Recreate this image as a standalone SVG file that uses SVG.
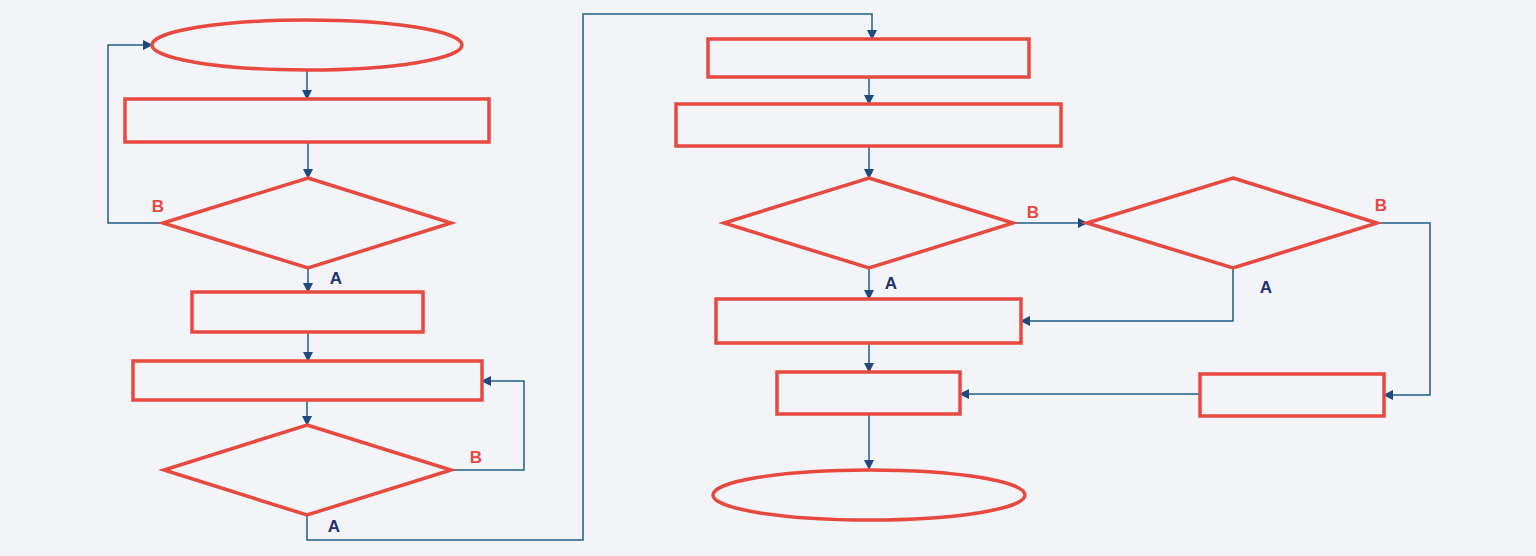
<svg xmlns="http://www.w3.org/2000/svg" width="1536" height="556" viewBox="0 0 1536 556">
<style>
.n{fill:none;stroke:#e8493f;stroke-width:3.5}
.c{fill:none;stroke:#1f5f88;stroke-width:1.5}
.lb{font-family:"Liberation Sans",Arial,sans-serif;font-weight:bold;font-size:17px;text-anchor:middle}
.a{fill:#1f3270}.b{fill:#e8493f}
</style>
<defs><marker id="ar" viewBox="0 0 10 10" refX="9" refY="5" markerWidth="7" markerHeight="7" orient="auto-start-reverse"><path d="M0,0L10,5L0,10z" fill="#1f4a80"/></marker></defs>
<rect width="1536" height="556" fill="#f3f4f8"/>
<g id="connectors" marker-end="url(#ar)">
<path class="c" d="M307,70V99"/>
<path class="c" d="M308,142V178"/>
<path class="c" d="M163,223H108V45H152"/>
<path class="c" d="M308,268V292"/>
<path class="c" d="M308,332V361"/>
<path class="c" d="M307,400V425"/>
<path class="c" d="M451,470H524V381H482"/>
<path class="c" d="M307,515V540H583V14H872V39"/>
<path class="c" d="M869,77V104"/>
<path class="c" d="M869,146V178"/>
<path class="c" d="M869,268V299"/>
<path class="c" d="M1013,223H1087"/>
<path class="c" d="M1233,268V321H1021"/>
<path class="c" d="M1377,223H1430V395H1384"/>
<path class="c" d="M869,343V372"/>
<path class="c" d="M1200,394H960"/>
<path class="c" d="M869,414V469"/>
</g>
<g id="start"><ellipse class="n" cx="307" cy="45" rx="155" ry="25"/></g>
<g id="r1"><rect class="n" x="125" y="99" width="364" height="43"/></g>
<g id="d1"><path class="n" d="M308,178L451,223L308,268L163,223z"/></g>
<g id="r2"><rect class="n" x="192" y="292" width="231" height="40"/></g>
<g id="r3"><rect class="n" x="133" y="361" width="349" height="39"/></g>
<g id="d2"><path class="n" d="M307,425L451,470L307,515L164,470z"/></g>
<g id="r4"><rect class="n" x="708" y="39" width="321" height="38"/></g>
<g id="r5"><rect class="n" x="676" y="104" width="385" height="42"/></g>
<g id="d3"><path class="n" d="M869,178L1013,223L869,268L724,223z"/></g>
<g id="d4"><path class="n" d="M1233,178L1377,223L1233,268L1087,223z"/></g>
<g id="r6"><rect class="n" x="716" y="299" width="305" height="44"/></g>
<g id="r7"><rect class="n" x="777" y="372" width="183" height="42"/></g>
<g id="r8"><rect class="n" x="1200" y="374" width="184" height="42"/></g>
<g id="end"><ellipse class="n" cx="869" cy="495" rx="156" ry="25"/></g>
<g id="labels">
<text class="lb b" x="158" y="212">B</text>
<text class="lb a" x="336" y="284">A</text>
<text class="lb b" x="476" y="463">B</text>
<text class="lb a" x="334" y="532">A</text>
<text class="lb b" x="1033" y="218">B</text>
<text class="lb a" x="891" y="289">A</text>
<text class="lb b" x="1381" y="211">B</text>
<text class="lb a" x="1266" y="293">A</text>
</g>
</svg>
